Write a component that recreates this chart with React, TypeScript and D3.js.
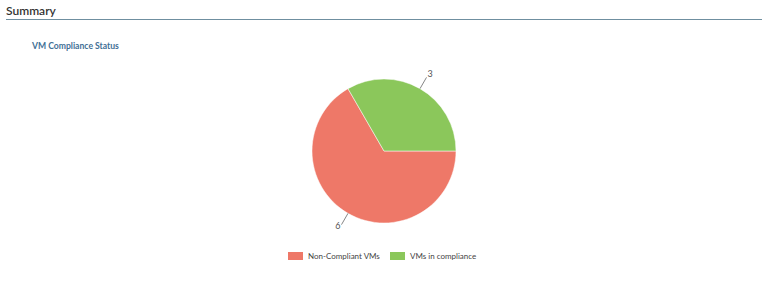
import React from "react";
import * as d3 from "d3";

const categories = ["Non-Compliant VMs", "VMs in compliance"];
const values = [6, 3];
const colors = ["#EE7868", "#8BC75B"];

export default function App() {
  const W = 768, H = 282;
  const cx = 384, cy = 151, r = 72;
  const pie = d3.pie<number>().sort(null).startAngle(Math.PI / 2).endAngle(Math.PI / 2 + 2 * Math.PI);
  const arcs = pie(values);
  const arc = d3.arc<d3.PieArcDatum<number>>().innerRadius(0).outerRadius(r);
  return (
    <svg width={W} height={H} style={{ position: "absolute", left: 0, top: 0, fontFamily: "Lato, 'Open Sans', sans-serif" }}>
      <rect width={W} height={H} fill="#fff" />
      <text x={6} y={15} fontSize={12} fill="#333" fontWeight={600}>Summary</text>
      <line x1={6} x2={762} y1={19.5} y2={19.5} stroke="#6f8fa0" strokeWidth={1} />
      <text x={32} y={49} fontSize={8.6} fill="#3f6f96" fontWeight={700}>VM Compliance Status</text>
      <g transform={`translate(${cx},${cy})`}>
        {arcs.map((a, i) => (
          <path key={i} d={arc(a) || ""} fill={colors[i]} stroke="#fff" strokeWidth={0.5} />
        ))}
        {arcs.map((a, i) => {
          const m = (a.startAngle + a.endAngle) / 2;
          const p1 = [Math.sin(m) * r, -Math.cos(m) * r];
          const p2 = [Math.sin(m) * (r + 13), -Math.cos(m) * (r + 13)];
          const right = Math.sin(m) > 0;
          return (
            <g key={"l" + i}>
              <line x1={p1[0]} y1={p1[1]} x2={p2[0]} y2={p2[1]} stroke="#666" strokeWidth={0.8} />
              <text x={p2[0] + (right ? 1 : -1)} y={p2[1] + (right ? 0 : 4)} fontSize={9} fill="#555" textAnchor={right ? "start" : "end"}>{a.data}</text>
            </g>
          );
        })}
      </g>
      <g>
        {categories.map((c, i) => {
          const x0 = i === 0 ? 288 : 390;
          return (
            <g key={c}>
              <rect x={x0} y={252} width={15} height={8} fill={colors[i]} />
              <text x={x0 + 20} y={259} fontSize={8} fill="#444">{c}</text>
            </g>
          );
        })}
      </g>
    </svg>
  );
}
